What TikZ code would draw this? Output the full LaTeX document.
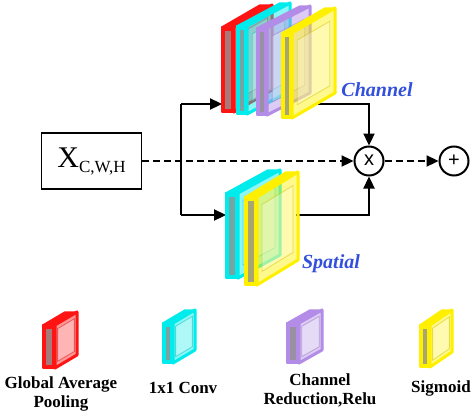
\documentclass[tikz,border=0pt]{standalone}
\usepackage{fontspec}
\setmainfont{Liberation Serif}
\setsansfont{Liberation Sans}
\usetikzlibrary{arrows.meta,calc}
\definecolor{cred}{RGB}{255,20,20}
\definecolor{ccyan}{RGB}{0,235,235}
\definecolor{cpurp}{RGB}{178,140,230}
\definecolor{cyell}{RGB}{255,240,0}
\definecolor{lblue}{RGB}{50,80,220}
% slab: #1 colour, #2 x0, #3 y0, #4 thickness, #5 height, #6 dx, #7 dy
\newcommand\slab[7]{%
\begin{scope}[shift={(#2,#3)}]
 \coordinate (A) at (#4,0);
 \coordinate (B) at (#4+#6,#7);
 \coordinate (C) at (#4+#6,#7+#5);
 \coordinate (D) at (#4,#5);
 \fill[#1,opacity=.45] (A)--(B)--(C)--(D)--cycle;
 \fill[white,opacity=.3] ($(A)!.12!(C)$) -- ($(B)!.12!(D)$) -- ($(C)!.12!(A)$) -- ($(D)!.12!(B)$) -- cycle;
 \draw[#1!80!black,opacity=.5,line width=.8pt] ($(A)!.12!(C)$) -- ($(B)!.12!(D)$) -- ($(C)!.12!(A)$) -- ($(D)!.12!(B)$) -- cycle;
 \draw[#1,line width=3pt,line join=round] (A)--(B)--(C)--(D)--cycle;
 \fill[#1] (0,0) -- (#6,#7) -- (#4+#6,#7) -- (A) -- cycle;
 \draw[#1,line width=1.5pt,line join=round] (0,0) -- (#6,#7) -- (#4+#6,#7) -- (A) -- cycle;
 \fill[#1] (0,0) rectangle (#4,#5);
 \fill[gray!85,opacity=.8] (3,4) rectangle (#4-3,#5-3);
 \draw[#1,line width=2.5pt,line join=round] (0,0) rectangle (#4,#5);
\end{scope}}
\tikzset{
  conn/.style={line width=2.3pt,-{Triangle[length=12pt,width=11pt]}},
  plain/.style={line width=2.3pt},
  dconn/.style={line width=2.3pt,dash pattern=on 7pt off 4pt,-{Triangle[length=12pt,width=11pt]}},
  opc/.style={draw,circle,line width=2pt,minimum size=29pt,inner sep=0pt,font=\sffamily\fontsize{20}{20}\selectfont},
  leg/.style={font=\bfseries\fontsize{17}{19}\selectfont,align=center},
  blbl/.style={font=\bfseries\itshape\fontsize{20}{20}\selectfont,text=lblue}
}
\begin{document}
\begin{tikzpicture}[x=1pt,y=-1pt]
\useasboundingbox (0,0) rectangle (474,415);
% nodes
\node[draw,line width=1.8pt,minimum width=100pt,minimum height=56pt,inner sep=0pt] (box) at (91.5,161)
  {\raisebox{-3pt}{\fontsize{30}{30}\selectfont X\fontsize{17}{17}\selectfont\raisebox{-5pt}{C,W,H}}};
\node[opc] (xc) at (369,161) {\raisebox{1pt}{x}};
\node[opc] (pc) at (454,161) {\raisebox{1pt}{+}};
\coordinate (jt) at (181,104);
\coordinate (jb) at (181,215);
\coordinate (tin) at (222,104);
\coordinate (bin) at (226,215);
\coordinate (tout) at (318,104);
\coordinate (bout) at (296,215);
% connectors
\draw[dconn] (box) -- (xc);
\draw[dconn] (xc) -- (pc);
\draw[plain] (jt) -- (jb);
\draw[conn] (jt) -- (tin);
\draw[conn] (jb) -- (bin);
\draw[conn] (tout) -| (xc);
\draw[conn] (bout) -| (xc);
% top group
\slab{cred}{222}{27}{12}{85}{38}{-22}
\slab{ccyan}{237}{26}{10}{88}{43}{-23}
\slab{cpurp}{257}{28}{10}{87}{43}{-22}
\slab{cyell}{282}{33}{10}{85}{43}{-25}
% bottom group
\slab{ccyan}{226}{193}{12}{85}{42}{-23}
\slab{cyell}{245}{197}{12}{88}{41}{-25}
% labels
\node[blbl] (chl) at (377,90) {Channel};
\node[blbl] (spl) at (331,264) {Spatial};
% legend
\slab{cred}{43}{325}{12}{43}{22}{-13}
\slab{ccyan}{163}{323}{10}{40}{22}{-13}
\slab{cpurp}{287}{323}{12}{40}{23}{-13}
\slab{cyell}{420}{325}{10}{42}{22}{-15}
\node[leg] (l1) at (61,394) {Global Average\\Pooling};
\node[leg] (l2) at (183,388) {1x1 Conv};
\node[leg] (l3) at (320,390) {Channel\\Reduction,Relu};
\node[leg] (l4) at (441,388) {Sigmoid};
\end{tikzpicture}
\end{document}
